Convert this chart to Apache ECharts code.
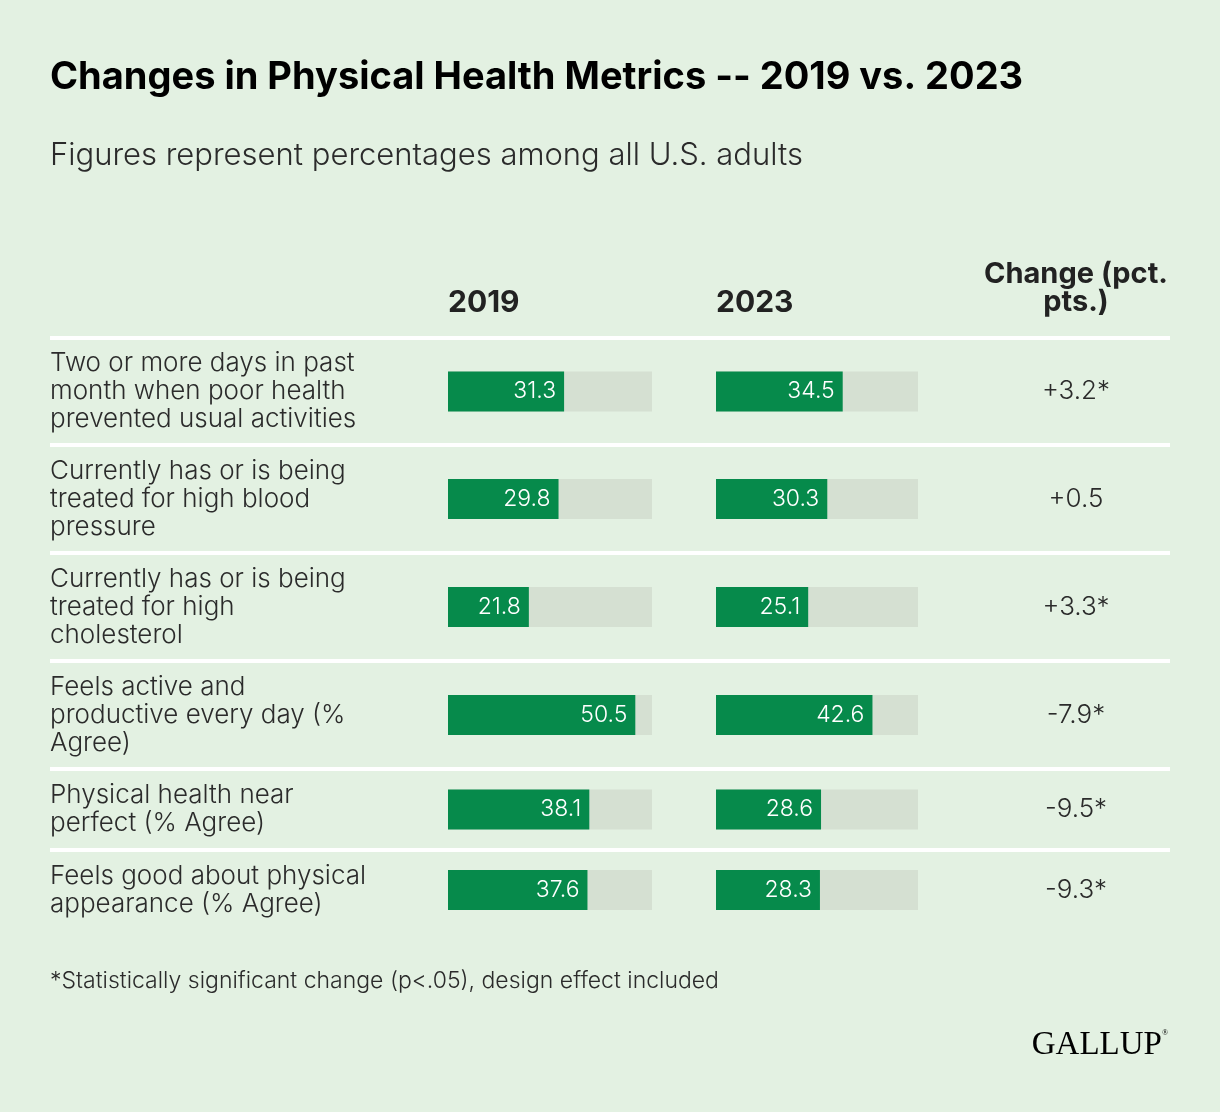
<!DOCTYPE html>
<html>
<head>
<meta charset="utf-8">
<script src="https://cdn.jsdelivr.net/npm/echarts@6/dist/echarts.min.js"></script>
<style>
html,body{margin:0;padding:0;background:#e3f1e2;}
#chart{width:1220px;height:1112px;}
</style>
</head>
<body>
<div id="chart"></div>
<script>
// ---- data ----
const categories = [
  "Two or more days in past\nmonth when poor health\nprevented usual activities",
  "Currently has or is being\ntreated for high blood\npressure",
  "Currently has or is being\ntreated for high\ncholesterol",
  "Feels active and\nproductive every day (%\nAgree)",
  "Physical health near\nperfect (% Agree)",
  "Feels good about physical\nappearance (% Agree)"
];
const values2019 = [31.3, 29.8, 21.8, 50.5, 38.1, 37.6];
const values2023 = [34.5, 30.3, 25.1, 42.6, 28.6, 28.3];
const changeLabels = ["+3.2*", "+0.5", "+3.3*", "-7.9*", "-9.5*", "-9.3*"];
const columnHeaders = ["2019", "2023", "Change (pct.\npts.)"];
const axisMax = 55;

// ---- layout ----
const FONT = "Inter";
const rowLines = [338, 445, 553, 661, 769, 850];
const tableBottom = 930;
const colLeft = [448, 716];
const colWidth = [204, 202];
const changeX = 1076;
const barH = 40;

const chart = echarts.init(document.getElementById('chart'));

const grids = [], xAxes = [], yAxes = [], series = [], graphics = [];
const yearData = [values2019, values2023];

categories.forEach((cat, i) => {
  const top = rowLines[i];
  const bottom = i < categories.length - 1 ? rowLines[i + 1] : tableBottom;
  const mid = (top + bottom) / 2;
  yearData.forEach((vals, c) => {
    const idx = grids.length;
    grids.push({left: colLeft[c], width: colWidth[c], top: mid - barH / 2, height: barH, containLabel: false});
    xAxes.push({type: 'value', gridIndex: idx, min: 0, max: axisMax, show: false});
    yAxes.push({type: 'category', gridIndex: idx, data: [cat], show: false});
    series.push({
      type: 'bar', xAxisIndex: idx, yAxisIndex: idx,
      data: [vals[i]], barWidth: barH,
      itemStyle: {color: '#068a4b'},
      showBackground: true,
      backgroundStyle: {color: '#d5e0d2'},
      label: {show: true, position: 'insideRight', distance: 8, color: '#ffffff',
        fontFamily: FONT, fontSize: 23, fontWeight: 300,
        formatter: p => p.value.toFixed(1)},
      silent: true, animation: false
    });
  });
  // row label
  graphics.push({type: 'text', position: [50, mid], style: {
    text: cat, font: `300 26px ${FONT}`, fill: '#2b2b2b', lineHeight: 28,
    verticalAlign: 'middle'
  }});
  // change
  graphics.push({type: 'text', position: [changeX, mid], style: {
    text: changeLabels[i], font: `300 26px ${FONT}`, fill: '#2b2b2b',
    align: 'center', verticalAlign: 'middle'
  }});
});

// separator lines
rowLines.forEach(y => {
  graphics.push({type: 'rect', shape: {x: 50, y: y - 2, width: 1120, height: 4}, style: {fill: '#ffffff'}});
});

// headers
graphics.push({type: 'text', position: [colLeft[0], 303], style: {text: columnHeaders[0], font: `bold 30px ${FONT}`, fill: '#222', verticalAlign: 'middle'}});
graphics.push({type: 'text', position: [colLeft[1], 303], style: {text: columnHeaders[1], font: `bold 30px ${FONT}`, fill: '#222', verticalAlign: 'middle'}});
graphics.push({type: 'text', position: [changeX, 288], style: {text: columnHeaders[2], font: `bold 29px ${FONT}`, fill: '#222', align: 'center', verticalAlign: 'middle', lineHeight: 28}});

// title, subtitle, footnote, logo
graphics.push({type: 'text', position: [50, 78], style: {text: 'Changes in Physical Health Metrics -- 2019 vs. 2023', font: `bold 38px ${FONT}`, fill: '#000', verticalAlign: 'middle'}});
graphics.push({type: 'text', position: [50, 156], style: {text: 'Figures represent percentages among all U.S. adults', font: `300 31px ${FONT}`, fill: '#2b2b2b', verticalAlign: 'middle'}});
graphics.push({type: 'text', position: [50, 981], style: {text: '*Statistically significant change (p<.05), design effect included', font: `300 23px ${FONT}`, fill: '#2b2b2b', verticalAlign: 'middle'}});
graphics.push({type: 'text', position: [1168, 1045], style: {
  text: '{a|GALLUP}{b|®}', align: 'right', verticalAlign: 'middle',
  rich: {a: {fontFamily: 'Liberation Serif', fontSize: 33, color: '#555'},
         b: {fontFamily: 'Liberation Serif', fontSize: 8, color: '#555', verticalAlign: 'top', padding: [0,0,20,0]}}
}});

chart.setOption({
  backgroundColor: '#e3f1e2',
  animation: false,
  grid: grids, xAxis: xAxes, yAxis: yAxes, series: series,
  graphic: graphics
});
</script>
</body>
</html>
